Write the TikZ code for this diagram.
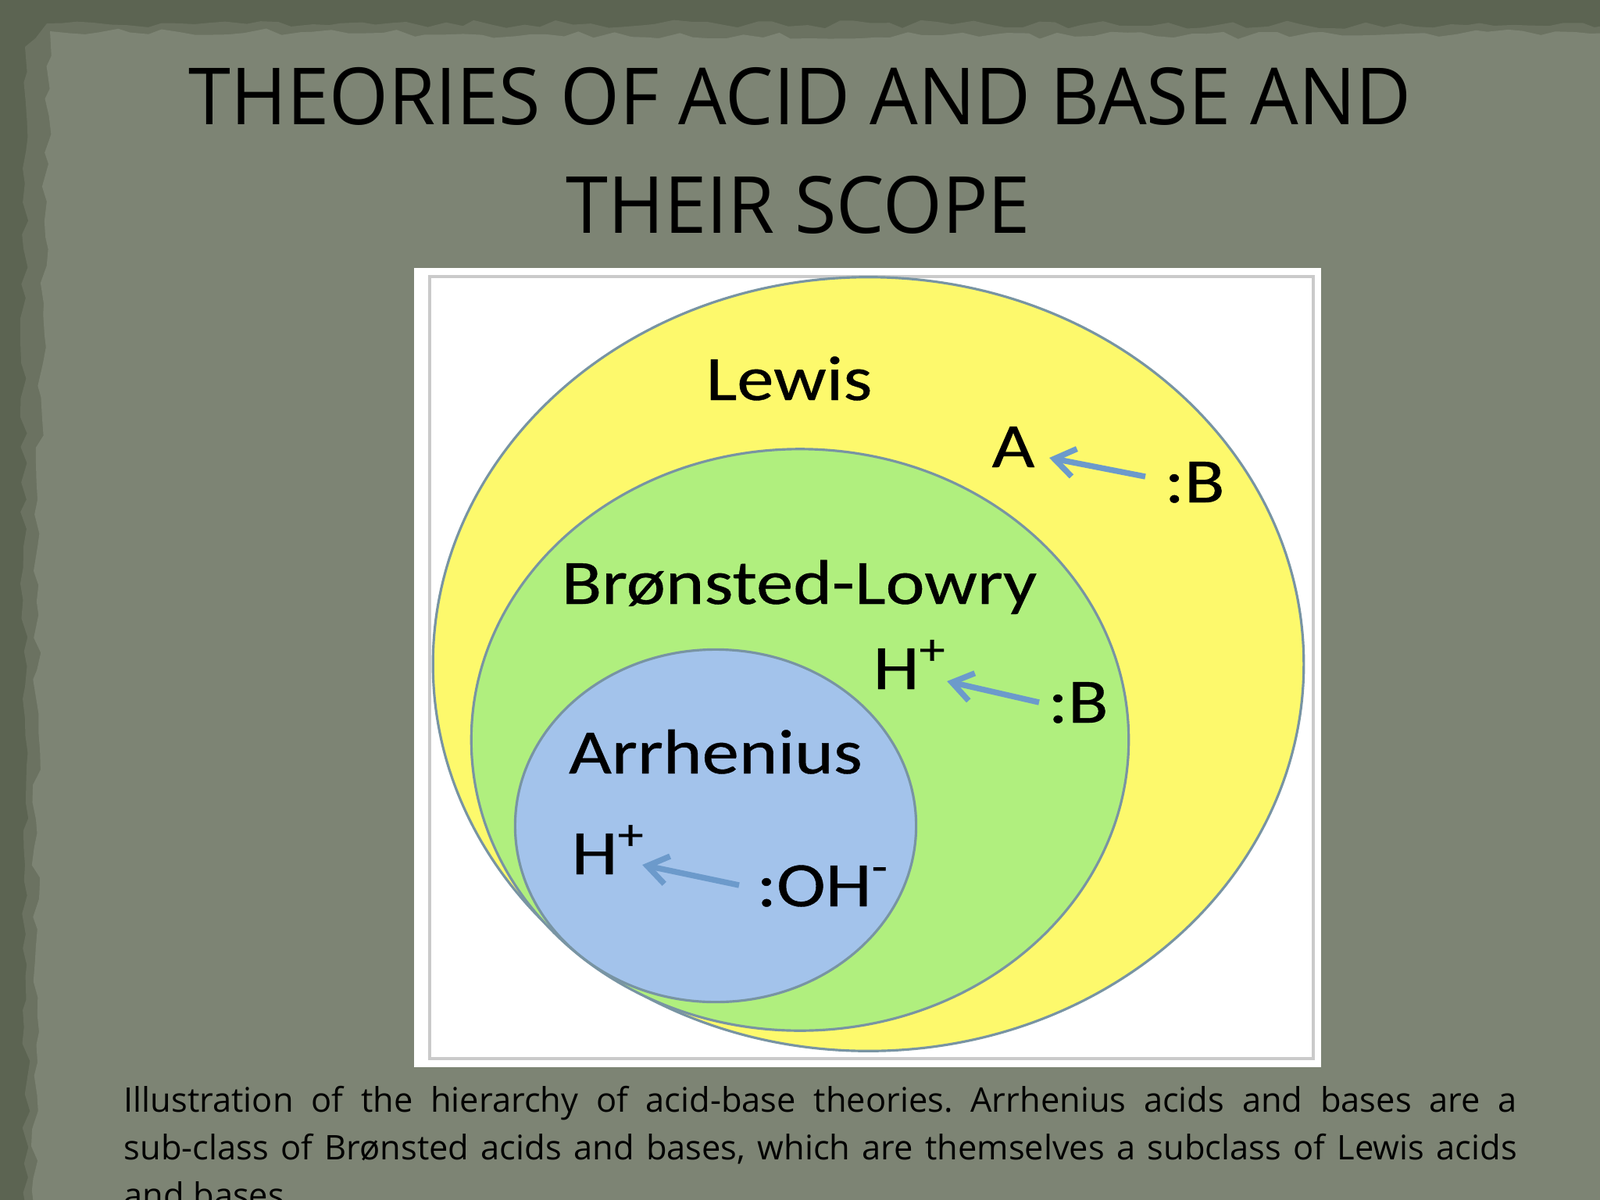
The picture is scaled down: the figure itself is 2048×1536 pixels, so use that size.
\documentclass[tikz,border=0pt]{standalone}
\usepackage{fontspec}
\setmainfont{Open Sans}
\newfontfamily\titlefont[FakeStretch=0.965]{Open Sans}
\newfontfamily\vennfont[FakeStretch=1.17,FakeBold=0.5]{Carlito}
\usetikzlibrary{arrows.meta,shapes.geometric,decorations.pathmorphing}
\definecolor{slideBg}{HTML}{7D8474}
\definecolor{slideEdge}{HTML}{5C6452}
\definecolor{colorLewis}{HTML}{FDF96C}
\definecolor{colorBronsted}{HTML}{B0EF7E}
\definecolor{colorArrhenius}{HTML}{A3C3EB}
\definecolor{colorRim}{HTML}{7894A3}
\definecolor{colorDonate}{HTML}{6C9ACB}
\definecolor{colorFrame}{HTML}{CACACA}
\tikzset{
	slidetitle/.style={font=\titlefont\fontsize{28.7}{34}\selectfont, inner sep=0pt},
	slidecaption/.style={font=\fontsize{12.35}{15}\selectfont\frenchspacing, inner sep=0pt},
	vennset/.style={ellipse, draw=colorRim, line width=0.9pt, inner sep=0pt},
	vennlabel/.style={font=\vennfont\fontsize{23}{28}\selectfont, inner sep=0pt},
	donate/.style={draw=colorDonate, line width=2.1pt, -{Straight Barb[length=0.26cm,width=0.36cm]}},
	torn/.style={decorate, decoration={random steps, segment length=6pt, amplitude=1.5pt}}
}

\begin{document}
\begin{tikzpicture}[x=0.01cm, y=-0.01cm]
	\useasboundingbox (0,0) rectangle (2048,1536);
	\clip (0,0) rectangle (2048,1536);
	
	% slide background
	\fill[slideEdge] (-10,-10) rectangle (2060,1550);
	\fill[slideEdge!55!slideBg, torn]
	(32,60) -- (60,30) -- (2060,32) -- (2060,1550) -- (34,1550) -- (30,700) -- cycle;
	\fill[slideBg, torn]
	(64,40) -- (700,44) -- (1400,46) -- (2060,42) -- (2060,1550) -- (44,1550) -- (48,700) -- cycle;
	
	\node[slidetitle, anchor=base] (titleA) at (1024,159) {THEORIES OF ACID AND BASE AND};
	\node[slidetitle, anchor=base] (titleB) at (1022,298) {THEIR SCOPE};
	
	% picture box
	\node[fill=white, minimum width=11.61cm, minimum height=10.23cm, inner sep=0pt, anchor=north west] (photo) at (529,342) {};
	\node[draw=colorFrame, line width=1.2pt, minimum width=11.3cm, minimum height=10cm, inner sep=0pt, anchor=north west] (frame) at (548,352) {};
	
	\node[vennset, fill=colorLewis, minimum width=11.14cm, minimum height=9.9cm] (lewis) at (1111.5,850) {};
	\node[vennset, fill=colorBronsted, minimum width=8.41cm, minimum height=7.44cm] (bronsted) at (1024,947) {};
	\node[vennset, fill=colorArrhenius, minimum width=5.13cm, minimum height=4.51cm] (arrhenius) at (916,1057) {};
	
	\node[vennlabel, anchor=base] (lewisName) at (1010,512) {Lewis};
	\node[vennlabel, anchor=base] (lewisA) at (1297,598) {A};
	\node[vennlabel, anchor=base west] (lewisB) at (1490,643) {:B};
	\node[vennlabel, anchor=base] (bronName) at (1023,773) {Brønsted-Lowry};
	\node[vennlabel, anchor=base west] (bronH) at (1117,882) {H\textsuperscript{+}};
	\node[vennlabel, anchor=base west] (bronB) at (1341,925) {:B};
	\node[vennlabel, anchor=base] (arrName) at (916,990) {Arrhenius};
	\node[vennlabel, anchor=base west] (arrH) at (731,1119) {H\textsuperscript{+}};
	\node[vennlabel, anchor=base west] (arrOH) at (968,1160) {:OH\textsuperscript{-}};
	
	\draw[donate] ([shift={(-24,-33)}]lewisB.base west) -- ([shift={(18,-12)}]lewisA.base east);
	\draw[donate] ([shift={(-11,-26)}]bronB.base west) -- ([shift={(0,-10)}]bronH.base east);
	\draw[donate] ([shift={(-22,-27)}]arrOH.base west) -- ([shift={(-4,-12)}]arrH.base east);
	
	% caption
	\node[slidecaption, anchor=base west] (capA) at (158,1423)
	{\makebox[17.82cm][s]{Illustration of the hierarchy of acid-base theories. Arrhenius acids and bases are a}};
	\node[slidecaption, anchor=base west] (capB) at (158,1484)
	{\makebox[17.82cm][s]{sub-class of Brønsted acids and bases, which are themselves a subclass of Lewis acids}};
	\node[slidecaption, anchor=base west] (capC) at (158,1545) {and bases.};
\end{tikzpicture}
\end{document}
